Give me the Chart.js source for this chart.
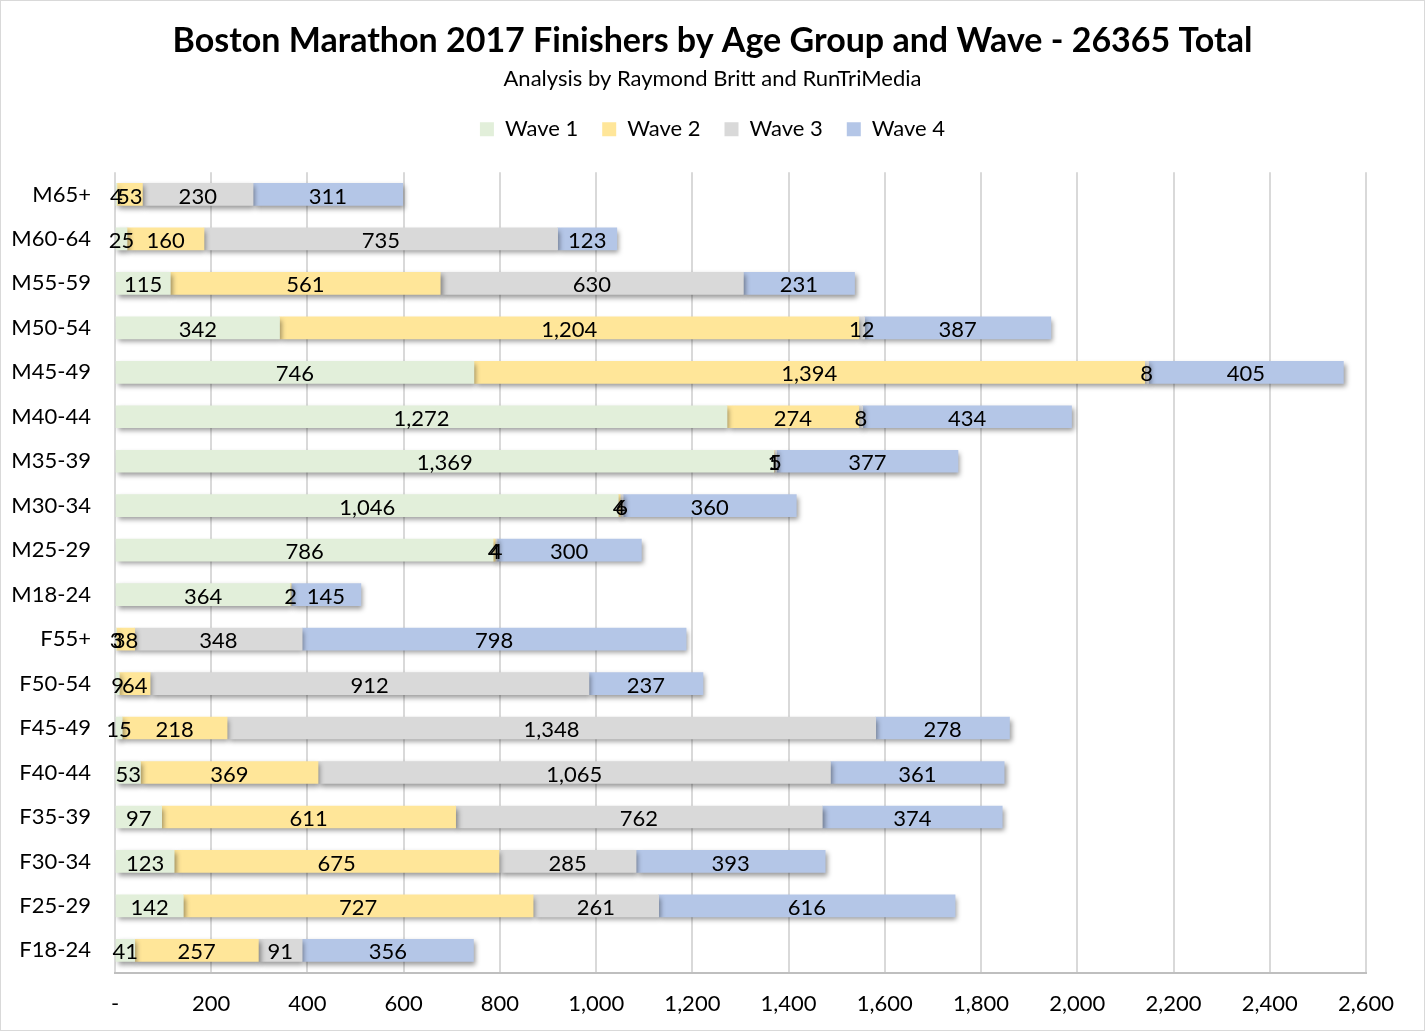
<!DOCTYPE html>
<html>
<head>
<meta charset="utf-8">
<script src="https://cdn.jsdelivr.net/npm/chart.js@4"></script>
<style>
  html, body { margin: 0; padding: 0; background: #fff; }
  #wrap { width: 1425px; height: 1031px; box-sizing: border-box; border: 1px solid #D9D9D9; position: relative; }
</style>
</head>
<body>
<div id="wrap"><canvas id="c"></canvas></div>
<script>
const categories = ["M65+","M60-64","M55-59","M50-54","M45-49","M40-44","M35-39","M30-34","M25-29","M18-24","F55+","F50-54","F45-49","F40-44","F35-39","F30-34","F25-29","F18-24"];
const wave1 = [4, 25, 115, 342, 746, 1272, 1369, 1046, 786, 364, 3, 9, 15, 53, 97, 123, 142, 41];
const wave2 = [53, 160, 561, 1204, 1394, 274, 1, 4, 4, 2, 38, 64, 218, 369, 611, 675, 727, 257];
const wave3 = [230, 735, 630, 12, 8, 8, 5, 6, 4, null, 348, 912, 1348, 1065, 762, 285, 261, 91];
const wave4 = [311, 123, 231, 387, 405, 434, 377, 360, 300, 145, 798, 237, 278, 361, 374, 393, 616, 356];
const seriesNames = ["Wave 1", "Wave 2", "Wave 3", "Wave 4"];
const colors = ["#E2EFDA", "#FFE699", "#D9D9D9", "#B4C6E7"];
const xMax = 2600, xStep = 200;

const FONT = "Lato, 'Open Sans', sans-serif";

const shadowPlugin = {
  id: 'barShadow',
  beforeDatasetDraw(chart) {
    const ctx = chart.ctx;
    ctx.save();
    ctx.shadowColor = 'rgba(0,0,0,0.4)';
    ctx.shadowBlur = 5;
    ctx.shadowOffsetX = 2;
    ctx.shadowOffsetY = 3;
  },
  afterDatasetDraw(chart) {
    chart.ctx.restore();
  }
};

const legendGapPlugin = {
  id: 'legendGap',
  beforeInit(chart) {
    const origFit = chart.legend.fit;
    chart.legend.fit = function () {
      origFit.call(this);
      this.height += 22;
    };
  }
};

const labelPlugin = {
  id: 'barLabels',
  afterDatasetsDraw(chart) {
    const ctx = chart.ctx;
    ctx.save();
    ctx.font = "22px " + FONT;
    ctx.fillStyle = "#000";
    ctx.textAlign = "center";
    ctx.textBaseline = "middle";
    chart.data.datasets.forEach((ds, i) => {
      const meta = chart.getDatasetMeta(i);
      meta.data.forEach((bar, j) => {
        const v = ds.data[j];
        if (v === null || v === undefined) return;
        const cx = (bar.x + bar.base) / 2;
        ctx.fillText(v.toLocaleString('en-US'), cx, bar.y + 2);
      });
    });
    ctx.restore();
  }
};

const data = [wave1, wave2, wave3, wave4];
new Chart(document.getElementById('c'), {
  type: 'bar',
  data: {
    labels: categories,
    datasets: data.map((d, i) => ({
      label: seriesNames[i],
      data: d,
      backgroundColor: colors[i],
      borderWidth: 0,
      barThickness: 22
    }))
  },
  options: {
    indexAxis: 'y',
    responsive: true,
    maintainAspectRatio: false,
    animation: false,
    layout: { padding: { top: 6, right: 12, bottom: 0, left: 12 } },
    scales: {
      x: {
        stacked: true,
        min: 0, max: xMax,
        afterFit: s => { s.paddingRight = 58; s.height -= 5; },
        ticks: {
          stepSize: xStep,
          color: "#000",
          font: { family: FONT, size: 22 },
          padding: 18,
          callback: v => v === 0 ? '-' : v.toLocaleString('en-US')
        },
        grid: { color: "#D9D9D9", lineWidth: 2, drawTicks: false },
        border: { color: "#BFBFBF", width: 2 }
      },
      y: {
        stacked: true,
        afterFit: s => { s.width = 102; },
        ticks: { color: "#000", font: { family: FONT, size: 22 }, padding: 24 },
        grid: { display: false, drawTicks: false },
        border: { display: false }
      }
    },
    plugins: {
      title: {
        display: true,
        text: "Boston Marathon 2017 Finishers by Age Group and Wave - 26365 Total",
        color: "#000",
        font: { family: FONT, size: 34, weight: 'bold' },
        padding: { top: 14, bottom: 4 }
      },
      subtitle: {
        display: true,
        text: "Analysis by Raymond Britt and RunTriMedia",
        color: "#000",
        font: { family: FONT, size: 22 },
        padding: { bottom: 2 }
      },
      legend: {
        display: true,
        labels: {
          color: "#000",
          font: { family: FONT, size: 22 },
          boxWidth: 14, boxHeight: 14,
          padding: 24
        }
      },
      tooltip: { enabled: false }
    }
  },
  plugins: [legendGapPlugin, shadowPlugin, labelPlugin]
});
</script>
</body>
</html>
